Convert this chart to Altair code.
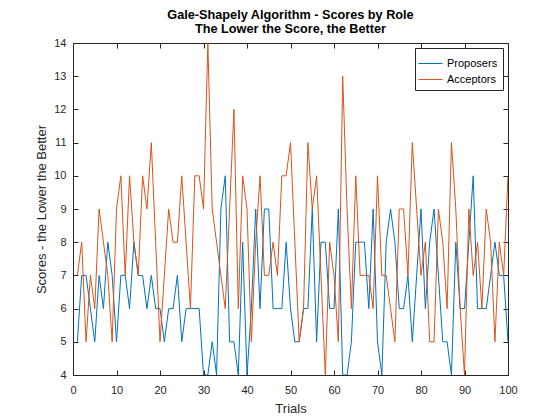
import altair as alt
import pandas as pd

trials = list(range(1, 101))

proposers = [5, 7, 7, 6, 5, 7, 6, 8, 7, 5,
             7, 7, 6, 8, 7, 7, 6, 7, 6, 6,
             5, 6, 6, 7, 5, 6, 6, 6, 6, 4,
             4, 5, 4, 9, 10, 5, 5, 4, 8, 4,
             6, 9, 6, 9, 9, 6, 6, 6, 8, 6,
             5, 5, 6, 6, 9, 5, 8, 8, 6, 6,
             9, 4, 4, 5, 8, 8, 8, 6, 9, 5,
             4, 8, 9, 8, 6, 6, 7, 5, 7, 9,
             6, 8, 9, 7, 5, 5, 4, 8, 6, 6,
             8, 10, 6, 6, 6, 7, 8, 7, 7, 5]

acceptors = [7, 8, 5, 7, 6, 9, 8, 7, 5, 9,
             10, 7, 10, 8, 7, 10, 9, 11, 8, 5,
             7, 9, 8, 8, 10, 8, 6, 10, 10, 9,
             14, 9, 8, 7, 6, 9, 12, 6, 10, 9,
             5, 8, 10, 7, 7, 8, 7, 10, 10, 11,
             8, 5, 6, 11, 9, 10, 7, 4, 8, 7,
             5, 13, 9, 6, 10, 7, 7, 7, 6, 10,
             7, 7, 6, 5, 9, 9, 7, 11, 9, 7,
             8, 5, 5, 9, 8, 6, 11, 9, 6, 4,
             9, 7, 8, 6, 9, 8, 5, 8, 7, 10]

roles = ["Proposers", "Acceptors"]
colors = ["#0072BD", "#D95319"]
x_ticks = list(range(0, 101, 10))
y_ticks = list(range(4, 15))

df = pd.concat([
    pd.DataFrame({"trial": trials, "score": proposers, "role": roles[0]}),
    pd.DataFrame({"trial": trials, "score": acceptors, "role": roles[1]}),
])

FONT = "Liberation Sans"
INK = "#262626"
inward = {"expr": "-5"}

lines = alt.Chart(df).mark_line(strokeWidth=1, clip=True).encode(
    x=alt.X("trial:Q", scale=alt.Scale(domain=[0, 100], nice=False),
            axis=alt.Axis(values=x_ticks, title="Trials", tickSize=inward,
                          labelFlush=False, labelPadding=14, titlePadding=7)),
    y=alt.Y("score:Q", scale=alt.Scale(domain=[4, 14], nice=False, zero=False),
            axis=alt.Axis(values=y_ticks, title="Scores - the Lower the Better",
                          tickSize=inward, labelFlush=False, labelPadding=12,
                          titlePadding=5)),
    color=alt.Color("role:N", sort=roles,
                    scale=alt.Scale(domain=roles, range=colors),
                    legend=alt.Legend(title=None, orient="top-right", offset=5,
                                      symbolType="M-1.2,0H1.2", symbolSize=400,
                                      symbolStrokeWidth=1, labelFontSize=11,
                                      labelFont=FONT, labelColor="black",
                                      labelOffset=6,
                                      strokeColor=INK, fillColor="white",
                                      padding=5, rowPadding=-3, cornerRadius=0)),
    detail="role:N",
)

# top and right ticks of the matlab box
frame = alt.Chart(df).mark_line(opacity=0).encode(
    x=alt.X("trial:Q", scale=alt.Scale(domain=[0, 100], nice=False),
            axis=alt.Axis(orient="top", values=x_ticks, labels=False, title=None,
                          tickSize=inward)),
    y=alt.Y("score:Q", scale=alt.Scale(domain=[4, 14], nice=False, zero=False),
            axis=alt.Axis(orient="right", values=y_ticks, labels=False, title=None,
                          tickSize=inward)),
    detail="role:N",
)

chart = alt.layer(lines, frame).resolve_axis(
    x="independent", y="independent"
).properties(
    width=435,
    height=332,
    padding={"left": 65, "top": 35, "right": 44, "bottom": 50},
    autosize=alt.AutoSizeParams(type="none"),
    title=alt.Title(["Gale-Shapely Algorithm - Scores by Role",
                     "The Lower the Score, the Better"],
                    fontSize=12.7, fontWeight="bold", font=FONT, color="black",
                    anchor="middle", offset=1, lineHeight=14),
).configure_view(
    stroke=INK, strokeWidth=1
).configure_axis(
    grid=False, domain=False, tickColor=INK, tickWidth=1,
    labelFont=FONT, labelFontSize=11, labelColor=INK,
    titleFont=FONT, titleFontSize=13, titleFontWeight="normal", titleColor=INK,
)

chart.save("out.html", embed_options={"renderer": "svg", "actions": False})
